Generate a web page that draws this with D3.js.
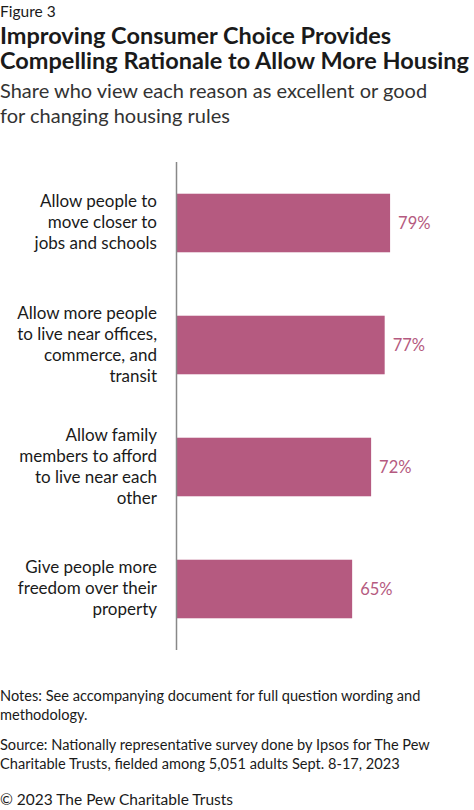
<!DOCTYPE html>
<html><head><meta charset="utf-8">
<script src="https://cdn.jsdelivr.net/npm/d3@7"></script>
<style>body{margin:0;background:#fff;font-family:Lato,sans-serif}</style>
</head><body><svg id="c" width="474" height="810"></svg>
<script>
const categories=[
 ["Allow people to","move closer to","jobs and schools"],
 ["Allow more people","to live near offices,","commerce, and","transit"],
 ["Allow family","members to afford","to live near each","other"],
 ["Give people more","freedom over their","property"]];
const values=[79,77,72,65];
const svg=d3.select("#c");
const col="#b55a80";
const x=d3.scaleLinear().domain([0,100]).range([176,447]);
const y=d3.scaleBand().domain(d3.range(4)).range([162,650]).paddingInner(0.52).paddingOuter(0.26);
const t=(txt,px,py,size,w,anchor,fill)=>svg.append("text").attr("x",px).attr("y",py).attr("font-size",size).attr("font-weight",w||400).attr("text-anchor",anchor||"start").attr("fill",fill||"#1a1a1a").text(txt);
t("Figure 3",0,17,15.5);
t("Improving Consumer Choice Provides",0,44,23.5,700);
t("Compelling Rationale to Allow More Housing",0,69,23.5,700);
t("Share who view each reason as excellent or good",0,98,20,400,"start","#333");
t("for changing housing rules",0,123,20,400,"start","#333");
svg.selectAll("rect.b").data(values).join("rect").attr("class","b")
 .attr("x",x(0)).attr("y",(d,i)=>y(i)).attr("width",d=>x(d)-x(0)).attr("height",y.bandwidth()).attr("fill",col);
svg.append("line").attr("x1",x(0)+0.5).attr("x2",x(0)+0.5).attr("y1",162).attr("y2",650).attr("stroke","#888").attr("stroke-width",1.5);
values.forEach((v,i)=>{
 t(v+"%",x(v)+8,y(i)+y.bandwidth()/2+6,16.5,400,"start",col);
 const L=categories[i], lh=21, y0=y(i)+y.bandwidth()/2-(L.length-1)*lh/2+5;
 L.forEach((s,j)=>t(s,157,y0+j*lh,17,400,"end","#1a1a1a"));
});
t("Notes: See accompanying document for full question wording and",0,701,14.6);
t("methodology.",0,720,14.6);
t("Source: Nationally representative survey done by Ipsos for The Pew",0,750,14.6);
t("Charitable Trusts, fielded among 5,051 adults Sept. 8-17, 2023",0,769,14.6);
t("© 2023 The Pew Charitable Trusts",0,805,15.5);
</script></body></html>
